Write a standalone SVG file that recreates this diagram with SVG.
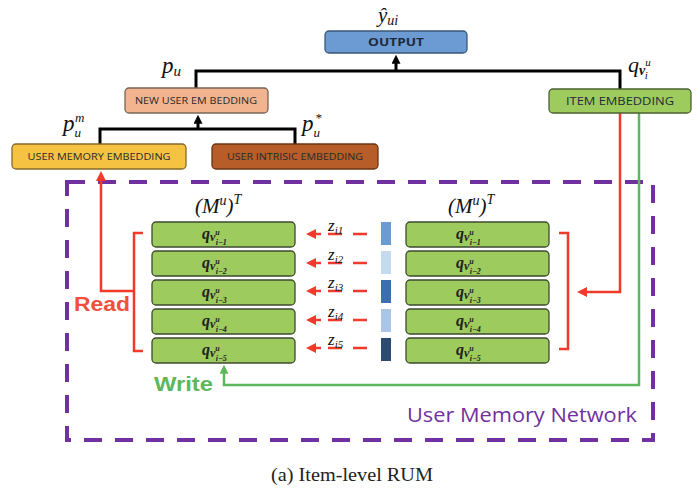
<svg xmlns="http://www.w3.org/2000/svg" width="700" height="498" viewBox="0 0 700 498">
<defs>
<style>
.box{stroke-width:1.3}
.bt{font-family:"Open Sans","Liberation Sans",sans-serif;font-size:9.5px;fill:#2a2a2a;text-anchor:middle}
.bt2{font-family:"Open Sans","Liberation Sans",sans-serif;font-size:11px;fill:#1e2a3a;text-anchor:middle}
.row{fill:#9dcb5d;stroke:#3e4a30;stroke-width:1.3}
.m{font-family:"Liberation Serif","DejaVu Serif",serif;font-style:italic;fill:#111}
.ql{font-family:"Liberation Serif","DejaVu Serif",serif;font-style:italic;font-weight:bold;fill:#222;font-size:16px}
.blk{fill:none;stroke:#000;stroke-width:3}
.red{fill:none;stroke:#f03a2c;stroke-width:2.5}
.grn{fill:none;stroke:#5cb85c;stroke-width:2.5}
.rd{fill:none;stroke:#f03a2c;stroke-width:2.5}
</style>
<marker id="ab" viewBox="0 0 10 10" refX="3" refY="5" markerWidth="9" markerHeight="9" markerUnits="userSpaceOnUse" orient="auto"><path d="M0,0 L10,5 L0,10 z" fill="#000"/></marker>
<marker id="ar" viewBox="0 0 10 10" refX="3" refY="5" markerWidth="10" markerHeight="10" markerUnits="userSpaceOnUse" orient="auto"><path d="M0,0 L10,5 L0,10 z" fill="#f03a2c"/></marker>
<marker id="ag" viewBox="0 0 10 10" refX="3" refY="5" markerWidth="9" markerHeight="9" markerUnits="userSpaceOnUse" orient="auto"><path d="M0,0 L10,5 L0,10 z" fill="#5cb85c"/></marker>
</defs>
<rect width="700" height="498" fill="#fff"/>

<g id="memory-network">
<rect x="67" y="182" width="586" height="258" fill="none" stroke="#7030a0" stroke-width="4" stroke-dasharray="18 13"/>
<text x="407" y="422" font-family="Open Sans, Liberation Sans, sans-serif" font-size="20" fill="#7030a0" textLength="230" lengthAdjust="spacingAndGlyphs">User Memory Network</text>
</g>

<g id="connectors">
<path class="blk" d="M196,88 V71 H620 V89"/>
<path class="blk" d="M396,71 V61" marker-end="url(#ab)"/>
<path class="blk" d="M100,144 V129 H295 V144"/>
<path class="blk" d="M198,129 V121" marker-end="url(#ab)"/>
<path class="red" d="M620,113 V292 H584" marker-end="url(#ar)"/>
<path class="red" d="M559,233 H568 V349 H559"/>
<path class="red" d="M143,233 H134 V351 H143"/>
<path class="red" d="M134,291 H101 V178" marker-end="url(#ar)"/>
<path class="grn" d="M639,113 V385 H224 V371" marker-end="url(#ag)"/>
<g id="z-arrows">
<path class="rd" d="M353,234 H367 M328,234 H342 M321,234 H313" marker-end="url(#ar)"/>
<path class="rd" d="M353,263 H367 M328,263 H342 M321,263 H313" marker-end="url(#ar)"/>
<path class="rd" d="M353,291 H367 M328,291 H342 M321,291 H313" marker-end="url(#ar)"/>
<path class="rd" d="M353,320 H367 M328,320 H342 M321,320 H313" marker-end="url(#ar)"/>
<path class="rd" d="M353,348 H367 M328,348 H342 M321,348 H313" marker-end="url(#ar)"/>
</g>
</g>

<g id="output">
<rect class="box" x="325" y="31" width="142" height="22" rx="4" fill="#6b9bd2" stroke="#3b5878"/>
<text class="bt2" x="396" y="46" font-weight="bold" textLength="56" lengthAdjust="spacingAndGlyphs">OUTPUT</text>
<text class="m" x="378" y="22" font-size="21">ŷ<tspan font-size="14" dy="3">ui</tspan></text>
</g>

<g id="new-user-embedding">
<rect class="box" x="125" y="88" width="143" height="25" rx="4" fill="#f2b48e" stroke="#7a6454"/>
<text class="bt" x="196" y="104" textLength="122" lengthAdjust="spacingAndGlyphs">NEW USER EM BEDDING</text>
<text class="m" x="162" y="73" font-size="23">p<tspan font-size="15" dy="3">u</tspan></text>
</g>

<g id="user-memory-embedding">
<rect class="box" x="12" y="144" width="174" height="25" rx="4" fill="#f5c242" stroke="#85692a"/>
<text class="bt" x="99" y="160" textLength="143" lengthAdjust="spacingAndGlyphs">USER MEMORY EMBEDDING</text>
<text class="m" x="63" y="131" font-size="23">p<tspan font-size="13" dy="6">u</tspan></text>
<text class="m" x="75" y="122" font-size="13">m</text>
</g>

<g id="user-intrinsic-embedding">
<rect class="box" x="212" y="144" width="166" height="25" rx="4" fill="#b65d2a" stroke="#6a3512"/>
<text class="bt" x="295" y="160" textLength="136" lengthAdjust="spacingAndGlyphs">USER INTRISIC EMBEDDING</text>
<text class="m" x="302" y="131" font-size="23">p<tspan font-size="13" dy="6">u</tspan></text>
<text class="m" x="315" y="122" font-size="13">*</text>
</g>

<g id="item-embedding">
<rect class="box" x="549" y="89" width="142" height="24" rx="4" fill="#9dcb5d" stroke="#4a6230"/>
<text class="bt2" x="620" y="105" textLength="108" lengthAdjust="spacingAndGlyphs">ITEM EMBEDDING</text>
<text class="m" x="628" y="72" font-size="22">q<tspan font-size="14" font-weight="bold" dy="3">v</tspan><tspan font-size="11" dy="-9">u</tspan><tspan font-size="11" dx="-6" dy="13">i</tspan></text>
</g>

<g id="memory-left">
<text class="m" x="195" y="213" font-size="21">(M<tspan font-size="14" dy="-8">u</tspan><tspan dy="8">)</tspan><tspan font-size="14" dy="-9">T</tspan></text>
<rect class="row" x="152" y="222" width="143" height="25" rx="4"/>
<rect class="row" x="152" y="251" width="143" height="25" rx="4"/>
<rect class="row" x="152" y="280" width="143" height="25" rx="4"/>
<rect class="row" x="152" y="309" width="143" height="25" rx="4"/>
<rect class="row" x="152" y="338" width="143" height="25" rx="4"/>
<text class="ql" x="202" y="239">q<tspan font-size="12" dy="2">v</tspan><tspan font-size="8" dy="-6">u</tspan><tspan font-size="8" dx="-4" dy="10">i−1</tspan></text>
<text class="ql" x="202" y="268">q<tspan font-size="12" dy="2">v</tspan><tspan font-size="8" dy="-6">u</tspan><tspan font-size="8" dx="-4" dy="10">i−2</tspan></text>
<text class="ql" x="202" y="297">q<tspan font-size="12" dy="2">v</tspan><tspan font-size="8" dy="-6">u</tspan><tspan font-size="8" dx="-4" dy="10">i−3</tspan></text>
<text class="ql" x="202" y="326">q<tspan font-size="12" dy="2">v</tspan><tspan font-size="8" dy="-6">u</tspan><tspan font-size="8" dx="-4" dy="10">i−4</tspan></text>
<text class="ql" x="202" y="355">q<tspan font-size="12" dy="2">v</tspan><tspan font-size="8" dy="-6">u</tspan><tspan font-size="8" dx="-4" dy="10">i−5</tspan></text>
<text x="74" y="311" font-family="Liberation Sans, Arial, sans-serif" font-weight="bold" font-size="20" fill="#f0503c" textLength="56" lengthAdjust="spacingAndGlyphs">Read</text>
<text x="154" y="391" font-family="Liberation Sans, Arial, sans-serif" font-weight="bold" font-size="20" fill="#5cb85c" textLength="59" lengthAdjust="spacingAndGlyphs">Write</text>
</g>

<g id="attention-weights">
<rect x="381" y="222" width="10" height="23" fill="#6a9bd1"/>
<rect x="381" y="251" width="10" height="23" fill="#c5d9ef"/>
<rect x="381" y="280" width="10" height="23" fill="#3d6fb0"/>
<rect x="381" y="309" width="10" height="23" fill="#a9c6e8"/>
<rect x="381" y="338" width="10" height="23" fill="#2c4a72"/>
<text class="m" x="328" y="231" font-size="17">z<tspan font-size="11" dy="3">i1</tspan></text>
<text class="m" x="328" y="260" font-size="17">z<tspan font-size="11" dy="3">i2</tspan></text>
<text class="m" x="328" y="288" font-size="17">z<tspan font-size="11" dy="3">i3</tspan></text>
<text class="m" x="328" y="317" font-size="17">z<tspan font-size="11" dy="3">i4</tspan></text>
<text class="m" x="328" y="345" font-size="17">z<tspan font-size="11" dy="3">i5</tspan></text>
</g>

<g id="memory-right">
<text class="m" x="448" y="213" font-size="21">(M<tspan font-size="14" dy="-8">u</tspan><tspan dy="8">)</tspan><tspan font-size="14" dy="-9">T</tspan></text>
<rect class="row" x="406" y="222" width="143" height="25" rx="4"/>
<rect class="row" x="406" y="251" width="143" height="25" rx="4"/>
<rect class="row" x="406" y="280" width="143" height="25" rx="4"/>
<rect class="row" x="406" y="309" width="143" height="25" rx="4"/>
<rect class="row" x="406" y="338" width="143" height="25" rx="4"/>
<text class="ql" x="456" y="239">q<tspan font-size="12" dy="2">v</tspan><tspan font-size="8" dy="-6">u</tspan><tspan font-size="8" dx="-4" dy="10">i−1</tspan></text>
<text class="ql" x="456" y="268">q<tspan font-size="12" dy="2">v</tspan><tspan font-size="8" dy="-6">u</tspan><tspan font-size="8" dx="-4" dy="10">i−2</tspan></text>
<text class="ql" x="456" y="297">q<tspan font-size="12" dy="2">v</tspan><tspan font-size="8" dy="-6">u</tspan><tspan font-size="8" dx="-4" dy="10">i−3</tspan></text>
<text class="ql" x="456" y="326">q<tspan font-size="12" dy="2">v</tspan><tspan font-size="8" dy="-6">u</tspan><tspan font-size="8" dx="-4" dy="10">i−4</tspan></text>
<text class="ql" x="456" y="355">q<tspan font-size="12" dy="2">v</tspan><tspan font-size="8" dy="-6">u</tspan><tspan font-size="8" dx="-4" dy="10">i−5</tspan></text>
</g>

<g id="caption">
<text x="271" y="481" font-family="Liberation Serif, Times New Roman, serif" font-size="18" fill="#222" textLength="162" lengthAdjust="spacingAndGlyphs">(a) Item-level RUM</text>
</g>
</svg>
